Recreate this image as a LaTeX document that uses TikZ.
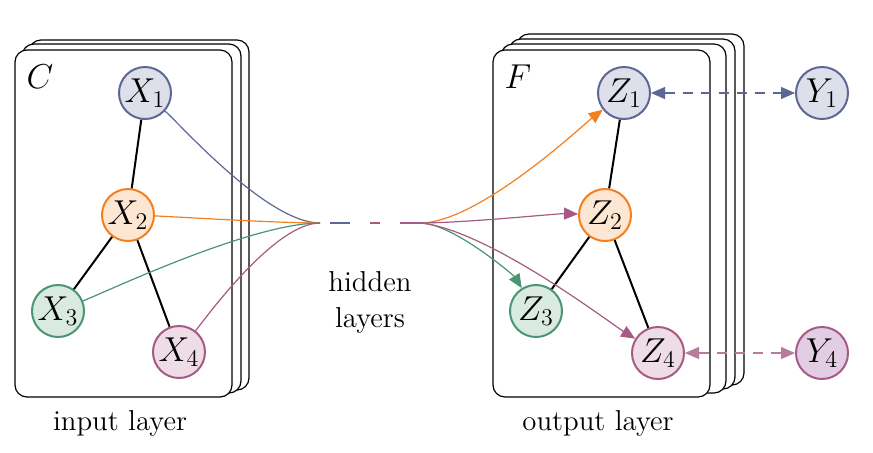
\documentclass[tikz,border=0pt]{standalone}
\usetikzlibrary{arrows.meta}
\definecolor{cb}{HTML}{5D6796}\definecolor{fb}{HTML}{DDE0EA}
\definecolor{co}{HTML}{F47F20}\definecolor{fo}{HTML}{FDE6D2}
\definecolor{cg}{HTML}{4A9572}\definecolor{fg}{HTML}{D9EAE1}
\definecolor{cp}{HTML}{A65A84}\definecolor{fp}{HTML}{EEDDE6}
\definecolor{fy}{HTML}{E3CDE4}
\begin{document}
\begin{tikzpicture}[x=0.5pt,y=-0.5pt,
 card/.style={draw=black,fill=white,rounded corners=6pt,line width=0.6pt},
 v/.style={circle,minimum size=26pt,inner sep=0pt,line width=1pt,font=\LARGE},
 e/.style={line width=1pt},
 f/.style={line width=0.6pt},
 tip/.style={-{Triangle[length=7pt,width=6pt]}},
 inb/.style={out looseness=0.3,in looseness=0.7},
 outb/.style={in looseness=0.3,out looseness=0.7},
 lbl/.style={font=\Large}]
\useasboundingbox (0,0) rectangle (873,452);
% left cards
\draw[card] (29,40) rectangle (249,390);
\draw[card] (22,44) rectangle (241,393);
\draw[card] (15,50) rectangle (232,397);
% right cards
\draw[card] (517,34) rectangle (744,385);
\draw[card] (509,39) rectangle (735,389);
\draw[card] (501,44) rectangle (726,393);
\draw[card] (493,50) rectangle (710,397);
\node[font=\LARGE] (C) at (40,77) {$C$};
\node[font=\LARGE] (F) at (518,77) {$F$};
\node[v,draw=cb,fill=fb] (X1) at (145,93) {$X_1$};
\node[v,draw=co,fill=fo] (X2) at (128,215) {$X_2$};
\node[v,draw=cg,fill=fg] (X3) at (58,311) {$X_3$};
\node[v,draw=cp,fill=fp] (X4) at (179,352) {$X_4$};
\node[v,draw=cb,fill=fb] (Z1) at (624,93) {$Z_1$};
\node[v,draw=co,fill=fo] (Z2) at (605,215) {$Z_2$};
\node[v,draw=cg,fill=fg] (Z3) at (536,311) {$Z_3$};
\node[v,draw=cp,fill=fp] (Z4) at (658,353) {$Z_4$};
\node[v,draw=cb,fill=fb] (Y1) at (822,93) {$Y_1$};
\node[v,draw=cp,fill=fy] (Y4) at (822,353) {$Y_4$};
\coordinate (hl) at (320,223);
\coordinate (hm) at (370,223);
\coordinate (hr) at (420,223);
\draw[e] (X1)--(X2) (X2)--(X3) (X2)--(X4) (Z1)--(Z2) (Z2)--(Z3) (Z2)--(Z4);
\draw[f,cb] (X1) to[out=-42,in=180,inb] (hl);
\draw[f,co] (X2) to[out=-2,in=180,inb] (hl);
\draw[f,cg] (X3) to[out=22,in=180,inb] (hl);
\draw[f,cp] (X4) to[out=52,in=180,inb] (hl);
\draw[f,cb,dash pattern=on 10pt off 10pt,dash phase=-5pt] (hl)--(hm);
\draw[f,cp,dash pattern=on 10pt off 10pt,dash phase=5pt] (hm)--(hr);
\draw[f,co,tip] (hr) to[out=0,in=218,outb] (Z1);
\draw[f,cp,tip] (hr) to[out=0,in=178,outb] (Z2);
\draw[f,cg,tip] (hr) to[out=0,in=122,outb] (Z3);
\draw[f,cp,tip] (hr) to[out=-5,in=148,outb] (Z4);
\draw[f,cb,dash pattern=on 5pt off 4pt,{Triangle[length=7pt,width=6pt]}-{Triangle[length=7pt,width=6pt]}] (Z1)--(Y1);
\draw[f,cp!80,dash pattern=on 5pt off 4pt,{Triangle[length=7pt,width=6pt]}-{Triangle[length=7pt,width=6pt]}] (Z4)--(Y4);
\node[lbl] (h1) at (370,282) {hidden};
\node[lbl] (h2) at (370,320) {layers};
\node[lbl] (il) at (120,423) {input layer};
\node[lbl] (ol) at (598,423) {output layer};
\end{tikzpicture}
\end{document}
